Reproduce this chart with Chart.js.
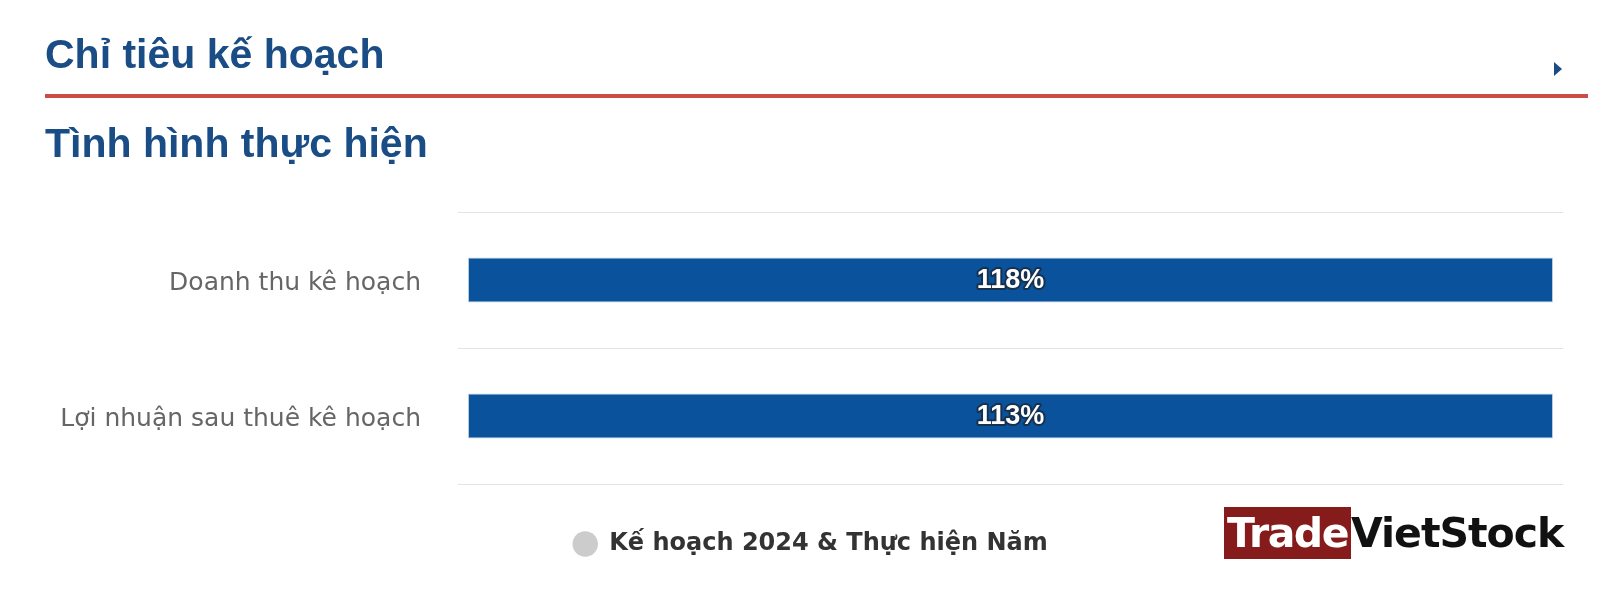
<!DOCTYPE html>
<html>
<head>
<meta charset="utf-8">
<script src="https://cdn.jsdelivr.net/npm/chart.js@4/dist/chart.umd.min.js"></script>
<style>
  html, body { margin: 0; padding: 0; background: #fff; }
  #page { position: relative; width: 1600px; height: 598px; overflow: hidden; }
  .heading { position: absolute; left: 45px; font: bold 41px "Liberation Sans", Arial, sans-serif; color: #1a4c85; white-space: nowrap; }
  #redLine { position: absolute; left: 45px; top: 94px; width: 1543px; height: 4px; background: #cd4a4a; }
  #arrow { position: absolute; left: 1554px; top: 62px; width: 0; height: 0;
           border-top: 7px solid transparent; border-bottom: 7px solid transparent; border-left: 8px solid #1a4c85; }
  #chartBox { position: absolute; left: 0; top: 0; width: 1600px; height: 598px; }
  #logo { position: absolute; left: 1224px; top: 507px; height: 52px; white-space: nowrap;
          font: bold 41px "DejaVu Sans", Verdana, sans-serif; letter-spacing: -1.5px; }
  #logo .trade { display: inline-block; background: #861b1b; color: #fff; height: 52px; line-height: 52px; padding: 0 3px; }
  #logo .viet { color: #111; line-height: 52px; letter-spacing: -1px; }
</style>
</head>
<body>
<div id="page">
  <div id="chartBox"><canvas id="planChart"></canvas></div>
  <div class="heading" style="top:31px">Chỉ tiêu kế hoạch</div>
  <div id="arrow"></div>
  <div id="redLine"></div>
  <div class="heading" style="top:120px">Tình hình thực hiện</div>
  <div id="logo"><span class="trade">Trade</span><span class="viet">VietStock</span></div>
</div>
<script>
// Data
const categories = ['Doanh thu kê hoạch', 'Lợi nhuận sau thuê kê hoạch'];
const percentDone = [118, 113];
const seriesName = 'Kế hoạch 2024 & Thực hiện Năm';

// axis tops out at 100%, so longer bars are cut at the end of the scale
const barValues = percentDone.map(v => Math.min(v, 100));

const barLabels = {
    id: 'barLabels',
    afterDatasetsDraw(chart) {
        const ctx = chart.ctx;
        const meta = chart.getDatasetMeta(0);
        ctx.save();
        ctx.font = 'bold 27px "Liberation Sans", Arial, sans-serif';
        ctx.textAlign = 'center';
        ctx.textBaseline = 'middle';
        ctx.lineJoin = 'round';
        meta.data.forEach((bar, i) => {
            const x = (bar.x + bar.base) / 2;
            const text = percentDone[i] + '%';
            ctx.lineWidth = 4;
            ctx.strokeStyle = '#16304f';
            ctx.strokeText(text, x, bar.y + 1);
            ctx.fillStyle = '#ffffff';
            ctx.fillText(text, x, bar.y + 1);
        });
        ctx.restore();
    }
};

const ctx = document.getElementById('planChart').getContext('2d');
new Chart(ctx, {
    type: 'bar',
    data: {
        labels: categories,
        datasets: [{
            label: seriesName,
            data: barValues,
            backgroundColor: '#0b529c',
            borderColor: '#b9cde3',
            borderWidth: 1,
            borderSkipped: false,
            categoryPercentage: 1,
            barPercentage: 0.33
        }]
    },
    options: {
        indexAxis: 'y',
        responsive: true,
        maintainAspectRatio: false,
        animation: false,
        layout: { padding: { top: 212, left: 58, right: 37, bottom: 32 } },
        scales: {
            x: { display: false, min: -0.92, max: 100.92 },
            y: {
                border: { display: false },
                grid: { color: '#e3e3e3', lineWidth: 1, drawTicks: false, offset: true },
                ticks: {
                    color: '#666666',
                    padding: 37,
                    labelOffset: 3,
                    font: { family: '"DejaVu Sans", Verdana, sans-serif', size: 25 }
                },
                afterFit(scale) { scale.width = 400; }
            }
        },
        plugins: {
            tooltip: { enabled: false },
            legend: {
                position: 'bottom',
                labels: {
                    usePointStyle: true,
                    boxWidth: 24,
                    boxHeight: 18,
                    padding: 48,
                    color: '#333333',
                    font: { family: '"DejaVu Sans", Verdana, sans-serif', size: 24, weight: 'bold' },
                    generateLabels: chart => chart.data.datasets.map((ds, i) => ({
                        text: ds.label,
                        fillStyle: '#cccccc',
                        strokeStyle: '#cccccc',
                        lineWidth: 0,
                        pointStyle: 'circle',
                        fontColor: '#333333',
                        datasetIndex: i
                    }))
                }
            }
        }
    },
    plugins: [barLabels]
});
</script>
</body>
</html>
